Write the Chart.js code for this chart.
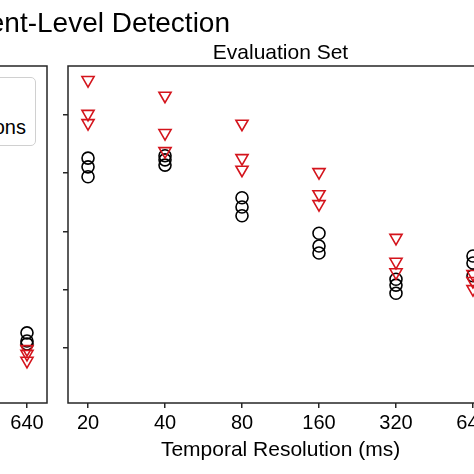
<!DOCTYPE html>
<html>
<head>
<meta charset="utf-8">
<script src="https://cdn.jsdelivr.net/npm/chart.js@4"></script>
<style>
  html, body { margin: 0; padding: 0; overflow: hidden; background: #fff; }
  body { position: relative; width: 474px; height: 474px; font-family: 'Liberation Sans', Arial, sans-serif; color: #000; }
  canvas { position: absolute; top: 0; }
  #leftChart { left: -450px; }
  #rightChart { left: 0; }
  .suptitle { position: absolute; right: 244px; top: 9px; font-size: 28px; line-height: 28px; white-space: nowrap; }
  .subtitle { position: absolute; left: 68px; width: 425px; top: 41px; font-size: 21px; line-height: 21px; text-align: center; white-space: nowrap; }
  .legend { position: absolute; right: 438px; top: 77px; height: 67px; border: 1px solid #d0d0d0; border-radius: 5px;
            padding: 0 9px 0 10px; display: flex; flex-direction: column; justify-content: center; background: #fff;
            font-size: 20px; line-height: 31px; white-space: nowrap; }
  .legend .mk { display: inline-block; width: 34px; text-align: center; }
</style>
</head>
<body>
<canvas id="leftChart" width="510" height="474"></canvas>
<canvas id="rightChart" width="520" height="474"></canvas>
<div class="suptitle">Event-Level Detection</div>
<div class="subtitle">Evaluation Set</div>
<div class="legend">
  <div><span class="mk" style="color:#000">○</span>Baseline</div>
  <div><span class="mk" style="color:#d4141c">▽</span>With Augmentations</div>
</div>
<script>
const categories = ['20', '40', '80', '160', '320', '640'];
const yTicks = [0.5, 0.6, 0.7, 0.8, 0.9];

// three runs per temporal resolution
const evalBaseline = [
  [0.826, 0.811, 0.794],
  [0.830, 0.823, 0.814],
  [0.758, 0.742, 0.727],
  [0.697, 0.675, 0.663],
  [0.618, 0.608, 0.594],
  [0.658, 0.646, 0.624]
];
const evalAugmented = [
  [0.960, 0.902, 0.886],
  [0.933, 0.869, 0.838],
  [0.885, 0.826, 0.806],
  [0.802, 0.764, 0.747],
  [0.689, 0.648, 0.630],
  [0.627, 0.615, 0.601]
];
// development set: only the 640 ms column is visible
const devBaseline = [null, null, null, null, null, [0.526, 0.512, 0.507]];
const devAugmented = [null, null, null, null, null, [0.498, 0.490, 0.478]];

const axisColor = '#262626';
const red = '#d4141c';
Chart.defaults.font.family = "'Liberation Sans', Arial, sans-serif";
Chart.defaults.color = '#000';

function toPoints(groups) {
  const pts = [];
  groups.forEach((g, i) => {
    if (!g) return;
    g.forEach(v => pts.push({ x: i, y: v }));
  });
  return pts;
}

const frame = {
  id: 'frame',
  afterDatasetsDraw(chart) {
    const a = chart.chartArea;
    const ctx = chart.ctx;
    ctx.save();
    ctx.strokeStyle = axisColor;
    ctx.lineWidth = 1.5;
    ctx.strokeRect(a.left, a.top, a.right - a.left, a.bottom - a.top);
    ctx.restore();
  }
};

function makeChart(id, baseline, augmented, yWidth, padRight, showYLabels) {
  return new Chart(document.getElementById(id), {
    type: 'scatter',
    data: {
      datasets: [
        {
          label: 'With Augmentations',
          data: toPoints(augmented),
          pointStyle: 'triangle',
          rotation: 180,
          radius: 7,
          borderColor: red,
          backgroundColor: 'rgba(0,0,0,0)',
          borderWidth: 1.6
        },
        {
          label: 'Baseline',
          data: toPoints(baseline),
          pointStyle: 'circle',
          radius: 6,
          borderColor: '#000',
          backgroundColor: 'rgba(0,0,0,0)',
          borderWidth: 1.6
        }
      ]
    },
    options: {
      responsive: false,
      animation: false,
      devicePixelRatio: 1,
      layout: { padding: { left: 0, right: padRight, top: 66, bottom: 0 } },
      plugins: { legend: { display: false }, tooltip: { enabled: false } },
      scales: {
        x: {
          type: 'linear',
          min: -0.26,
          max: 5.26,
          afterBuildTicks: s => { s.ticks = categories.map((c, i) => ({ value: i })); },
          afterFit: s => { s.height = 71; },
          ticks: { callback: v => categories[v], font: { size: 20 }, padding: 3, maxRotation: 0, color: '#000' },
          grid: { drawOnChartArea: false, drawTicks: true, tickLength: 5, color: axisColor, lineWidth: 1.5 },
          border: { display: false },
          title: { display: true, text: 'Temporal Resolution (ms)', font: { size: 21 }, padding: { top: 0, bottom: 11 }, color: '#000' }
        },
        y: {
          min: 0.4056,
          max: 0.9841,
          afterBuildTicks: s => { s.ticks = yTicks.map(v => ({ value: v })); },
          afterFit: s => { s.width = yWidth; },
          ticks: { display: showYLabels, callback: v => v.toFixed(1), font: { size: 20 }, color: '#000' },
          grid: { drawOnChartArea: false, drawTicks: true, tickLength: 5, color: axisColor, lineWidth: 1.5 },
          border: { display: false }
        }
      }
    },
    plugins: [frame]
  });
}

makeChart('leftChart', devBaseline, devAugmented, 72, 13, true);
makeChart('rightChart', evalBaseline, evalAugmented, 68, 27, false);
</script>
</body>
</html>
